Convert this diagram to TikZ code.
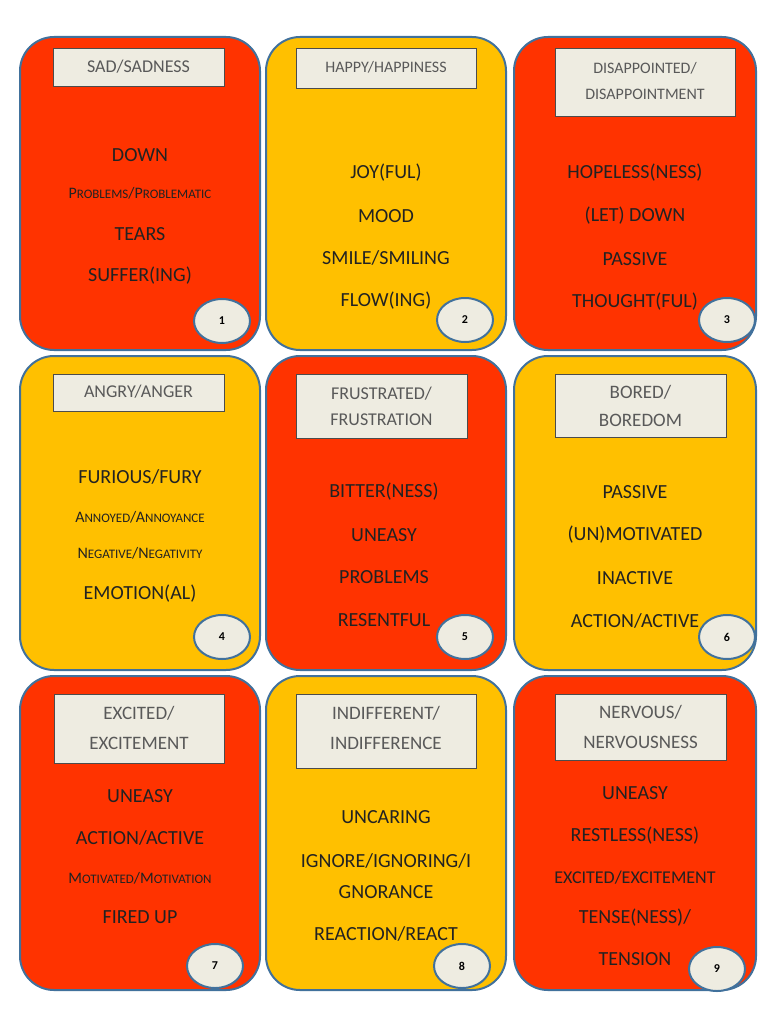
\documentclass[tikz,border=0pt]{standalone}
\usepackage{fontspec}
\setmainfont{Carlito}
\definecolor{cred}{HTML}{FF3300}
\definecolor{cyel}{HTML}{FFC000}
\definecolor{cbord}{HTML}{41719C}
\definecolor{tfill}{HTML}{EEECE1}
\definecolor{tgray}{HTML}{595959}
\definecolor{wtxt}{HTML}{222222}
\tikzset{
 card/.style={draw=cbord,line width=2pt,rounded corners=34pt},
 ttl/.style={draw=black!70,line width=0.8pt,fill=tfill},
 ttxt/.style={text=tgray,font=\fontsize{18}{26}\selectfont,align=center},
 wd/.style={text=wtxt,font=\fontsize{20}{24}\selectfont},
 sw/.style={text=wtxt,font=\fontsize{16}{20}\selectfont},
 num/.style={draw=cbord,line width=2pt,fill=tfill,ellipse,minimum width=56pt,minimum height=44pt,inner sep=0pt,font=\fontsize{12}{14}\selectfont\bfseries}
}
\usetikzlibrary{shapes.geometric}
\newcommand{\sm}[1]{{\fontsize{13}{16}\selectfont #1}}
\begin{document}
\begin{tikzpicture}[x=1pt,y=-1pt]
\useasboundingbox (0,0) rectangle (768,1024);
\fill[white] (0,0) rectangle (768,1024);
% cards
\draw[card,fill=cred] (20,37) rectangle (260,350);
\draw[card,fill=cyel] (266,37) rectangle (506,350);
\draw[card,fill=cred] (514,37) rectangle (756,350);
\draw[card,fill=cyel] (20,356) rectangle (260,670);
\draw[card,fill=cred] (266,356) rectangle (506,670);
\draw[card,fill=cyel] (514,356) rectangle (756,670);
\draw[card,fill=cred] (20,676) rectangle (260,990);
\draw[card,fill=cyel] (266,676) rectangle (506,990);
\draw[card,fill=cred] (514,676) rectangle (756,990);
% titles
\draw[ttl] (53,48) rectangle (224,86); \node[ttxt] (t1) at (138.5,67) {SAD/SADNESS};
\draw[ttl] (296,48) rectangle (476,88); \node[ttxt,font=\fontsize{16}{22}\selectfont] (t2) at (386,67) {HAPPY/HAPPINESS};
\draw[ttl] (555,48) rectangle (735,116); \node[ttxt,font=\fontsize{16}{26}\selectfont] (t3) at (645,81) {DISAPPOINTED/\\DISAPPOINTMENT};
\draw[ttl] (53,374) rectangle (224,411); \node[ttxt] (t4) at (138.5,392) {ANGRY/ANGER};
\draw[ttl] (296,374) rectangle (467,438); \node[ttxt] (t5) at (381.5,406) {FRUSTRATED/\\FRUSTRATION};
\draw[ttl] (555,374) rectangle (726,437); \node[ttxt,font=\fontsize{19}{28}\selectfont] (t6) at (640.5,406) {BORED/\\BOREDOM};
\draw[ttl] (54,694) rectangle (224,763); \node[ttxt,font=\fontsize{19}{30}\selectfont] (t7) at (139,728) {EXCITED/\\EXCITEMENT};
\draw[ttl] (296,694) rectangle (476,768); \node[ttxt,font=\fontsize{19}{30}\selectfont] (t8) at (386,728) {INDIFFERENT/\\INDIFFERENCE};
\draw[ttl] (555,694) rectangle (726,760); \node[ttxt,font=\fontsize{19}{30}\selectfont] (t9) at (640.5,727) {NERVOUS/\\NERVOUSNESS};
% words card 1
\node[wd] (a1) at (140,155) {DOWN};
\node[sw] (a2) at (140,193) {P\sm{ROBLEMS}/P\sm{ROBLEMATIC}};
\node[wd] (a3) at (140,234) {TEARS};
\node[wd] (a4) at (140,276) {SUFFER(ING)};
% card 2
\node[wd] (b1) at (386,173) {JOY(FUL)};
\node[wd] (b2) at (386,216) {MOOD};
\node[wd] (b3) at (386,258) {SMILE/SMILING};
\node[wd] (b4) at (386,301) {FLOW(ING)};
% card 3
\node[wd] (c1) at (635,173) {HOPELESS(NESS)};
\node[wd] (c2) at (635,216) {(LET) DOWN};
\node[wd] (c3) at (635,259) {PASSIVE};
\node[wd] (c4) at (635,302) {THOUGHT(FUL)};
% card 4
\node[wd] (d1) at (140,477) {FURIOUS/FURY};
\node[sw] (d2) at (140,517) {A\sm{NNOYED}/A\sm{NNOYANCE}};
\node[sw] (d3) at (140,553) {N\sm{EGATIVE}/N\sm{EGATIVITY}};
\node[wd] (d4) at (140,594) {EMOTION(AL)};
% card 5
\node[wd] (e1) at (384,492) {BITTER(NESS)};
\node[wd] (e2) at (384,535) {UNEASY};
\node[wd] (e3) at (384,577) {PROBLEMS};
\node[wd] (e4) at (384,620) {RESENTFUL};
% card 6
\node[wd] (f1) at (635,492) {PASSIVE};
\node[wd] (f2) at (635,535) {(UN)MOTIVATED};
\node[wd] (f3) at (635,578) {INACTIVE};
\node[wd] (f4) at (635,621) {ACTION/ACTIVE};
% card 7
\node[wd] (g1) at (140,796) {UNEASY};
\node[wd] (g2) at (140,838) {ACTION/ACTIVE};
\node[sw] (g3) at (140,878) {M\sm{OTIVATED}/M\sm{OTIVATION}};
\node[wd] (g4) at (140,917) {FIRED UP};
% card 8
\node[wd] (h1) at (386,817) {UNCARING};
\node[wd,align=center,font=\fontsize{20}{31}\selectfont] (h2) at (386,876) {IGNORE/IGNORING/I\\GNORANCE};
\node[wd] (h3) at (386,934) {REACTION/REACT};
% card 9
\node[wd] (i1) at (635,793) {UNEASY};
\node[wd] (i2) at (635,836) {RESTLESS(NESS)};
\node[sw,font=\fontsize{18}{22}\selectfont] (i3) at (635,878) {EXCITED/EXCITEMENT};
\node[wd] (i4) at (635,918) {TENSE(NESS)/};
\node[wd] (i5) at (635,959) {TENSION};
% numbers
\node[num] (n1) at (222,321) {1};
\node[num] (n2) at (465,320) {2};
\node[num] (n3) at (727,320) {3};
\node[num] (n4) at (222,637) {4};
\node[num] (n5) at (465,637) {5};
\node[num] (n6) at (727,637) {6};
\node[num] (n7) at (215,966) {7};
\node[num] (n8) at (462,966) {8};
\node[num] (n9) at (717,969) {9};
\end{tikzpicture}
\end{document}
